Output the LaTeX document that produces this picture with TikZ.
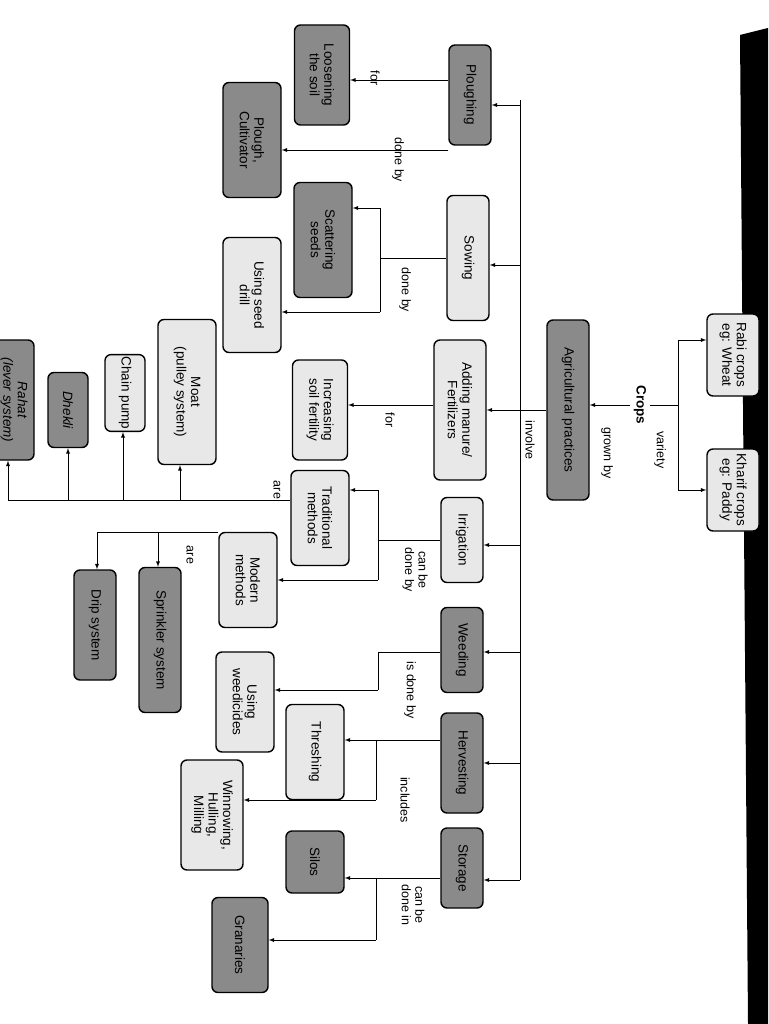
\documentclass[tikz,border=0pt]{standalone}
\usepackage{fontspec}
\setmainfont{Liberation Sans}
\usetikzlibrary{positioning,calc}
\definecolor{darkbox}{HTML}{8A8A8A}
\definecolor{lightbox}{HTML}{E8E8E8}
\begin{document}
\begin{tikzpicture}[>=latex,x=1pt,y=-1pt,
	box/.style={draw,rectangle,rounded corners=6pt,line width=1.4pt,rotate=-90,align=center,
		font=\fontsize{13.5}{14.5}\selectfont,minimum height=42,inner sep=2pt},
	dk/.style={box,fill=darkbox},
	lt/.style={box,fill=lightbox},
	lbl/.style={rotate=-90,font=\fontsize{12.5}{13.5}\selectfont},
	every path/.style={line width=0.9pt}]
	\useasboundingbox (0,0) rectangle (768,1024);
	\fill (740,35) -- (768,28) -- (768,1024) -- (748,1024) -- cycle;
	% top level
	\node[lbl,font=\fontsize{13.5}{14.5}\selectfont\bfseries] (crops) at (640,405) {Crops};
	\node[lt,minimum width=82,minimum height=52] (rabi) at (733,355) {Rabi crops\\eg: Wheat};
	\node[lt,minimum width=82,minimum height=52] (kharif) at (733,490) {Kharif crops\\eg: Paddy};
	\node[dk,minimum width=180] (agri) at (568,410) {Agricultural practices};
	\coordinate (vary) at (678,405);
	\draw (crops.north) -- (vary);
	\draw (678,340) -- (678,490);
	\draw[->] (678,340) -- (rabi.south |- 0,340);
	\draw[->] (678,490) -- (kharif.south |- 0,490);
	\draw[->] (crops.south) -- (agri.north |- crops);
	\node[lbl] at (660,450) {variety};
	\node[lbl] at (607,453) {grown by};
	\node[lbl] at (530,440) {involve};
	% practices
	\node[dk,minimum width=100] (plough) at (470,95) {Ploughing};
	\node[lt,minimum width=125] (sow) at (468,258) {Sowing};
	\node[lt,minimum width=140,minimum height=52] (manure) at (460,410) {Adding manure/\\Fertilizers};
	\node[lt,minimum width=85] (irri) at (462,540) {Irrigation};
	\node[dk,minimum width=85] (weed) at (462,650) {Weeding};
	\node[dk,minimum width=100] (harv) at (462,763) {Hervesting};
	\node[dk,minimum width=80] (store) at (462,868) {Storage};
	\draw (agri.south) -- (520,410);
	\draw (520,100) -- (520,880);
	\foreach \n/\y in {plough/105,sow/265,manure/410,irri/545,weed/652,harv/763,store/880}
		\draw[->] (520,\y) -- (\n.north |- 0,\y);
	% ploughing
	\node[dk,minimum width=100,minimum height=55] (loosen) at (322,75) {Loosening\\the soil};
	\node[dk,minimum width=115,minimum height=58] (tools) at (252,140) {Plough,\\Cultivator};
	\draw[->] (plough.south |- 0,80) -- (loosen.north |- 0,80);
	\draw[->] (plough.south |- 0,150) -- (tools.north |- 0,150);
	\node[lbl] at (375,78) {for};
	\node[lbl] at (398,160) {done by};
	% sowing
	\node[dk,minimum width=115,minimum height=58] (scatter) at (323,240) {Scattering\\seeds};
	\node[lt,minimum width=115,minimum height=58] (drill) at (252,295) {Using seed\\drill};
	\draw (sow.south |- 0,258) -- (380,258);
	\draw (380,208) -- (380,312);
	\draw[->] (380,208) -- (scatter.north |- 0,208);
	\draw[->] (380,312) -- (drill.north |- 0,312);
	\node[lbl] at (405,290) {done by};
	% manure
	\node[lt,minimum width=100,minimum height=55] (fertile) at (320,410) {Increasing\\soil fertility};
	\draw[->] (manure.south |- 0,405) -- (fertile.north |- 0,405);
	\node[lbl] at (390,420) {for};
	% irrigation
	\node[lt,minimum width=95,minimum height=58] (trad) at (320,518) {Traditional\\methods};
	\node[lt,minimum width=95,minimum height=58] (modern) at (248,580) {Modern\\methods};
	\draw (irri.south |- 0,540) -- (378,540);
	\draw (378,490) -- (378,580);
	\draw[->] (378,490) -- (trad.north |- 0,490);
	\draw[->] (378,580) -- (modern.north |- 0,580);
	\node[lbl,align=center] at (415,570) {can be\\done by};
	\node[lt,minimum width=145,minimum height=58] (moat) at (187,392) {Moat\\(pulley system)};
	\node[lt,minimum width=75,minimum height=40] (chain) at (125,393) {Chain pump};
	\node[dk,minimum width=75,minimum height=40,font=\fontsize{13.5}{14.5}\selectfont\itshape] (dhekli) at (68,410) {Dhekli};
	\node[dk,minimum width=120,minimum height=40,font=\fontsize{13.5}{14.5}\selectfont\itshape] (rahat) at (14,400) {Rahat\\(lever system)};
	\draw (trad.south |- 0,500) -- (8,500);
	\foreach \n/\x in {moat/180,chain/123,dhekli/68,rahat/8}
		\draw[->] (\x,500) -- (\n.east -| \x,0);
	\node[lbl] at (277,490) {are};
	\node[dk,minimum width=145] (sprink) at (160,640) {Sprinkler system};
	\node[dk,minimum width=110] (drip) at (95,625) {Drip system};
	\draw (modern.south |- 0,532) -- (97,532);
	\draw[->] (158,532) -- (sprink.west -| 158,0);
	\draw[->] (97,532) -- (drip.west -| 97,0);
	\node[lbl] at (190,555) {are};
	% weeding
	\node[lt,minimum width=100,minimum height=58] (weedicide) at (245,702) {Using\\weedicides};
	\draw (weed.south |- 0,652) -- (378,652) -- (378,690);
	\draw[->] (378,690) -- (weedicide.north |- 0,690);
	\node[lbl] at (410,690) {is done by};
	% harvesting
	\node[lt,minimum width=95,minimum height=58] (thresh) at (315,752) {Threshing};
	\node[lt,minimum width=110,minimum height=62] (winnow) at (212,815) {Winnowing,\\Hulling,\\Milling};
	\draw (harv.south |- 0,740) -- (376,740);
	\draw (376,740) -- (376,800);
	\draw[->] (376,740) -- (thresh.north |- 0,740);
	\draw[->] (376,800) -- (winnow.north |- 0,800);
	\node[lbl] at (405,800) {includes};
	% storage
	\node[dk,minimum width=62,minimum height=58] (silos) at (315,862) {Silos};
	\node[dk,minimum width=95,minimum height=56] (granary) at (240,945) {Granaries};
	\draw (store.south |- 0,878) -- (376,878);
	\draw (376,878) -- (376,940);
	\draw[->] (376,878) -- (silos.north |- 0,878);
	\draw[->] (376,940) -- (granary.north |- 0,940);
	\node[lbl,align=center] at (413,905) {can be\\done in};
\end{tikzpicture}
\end{document}
